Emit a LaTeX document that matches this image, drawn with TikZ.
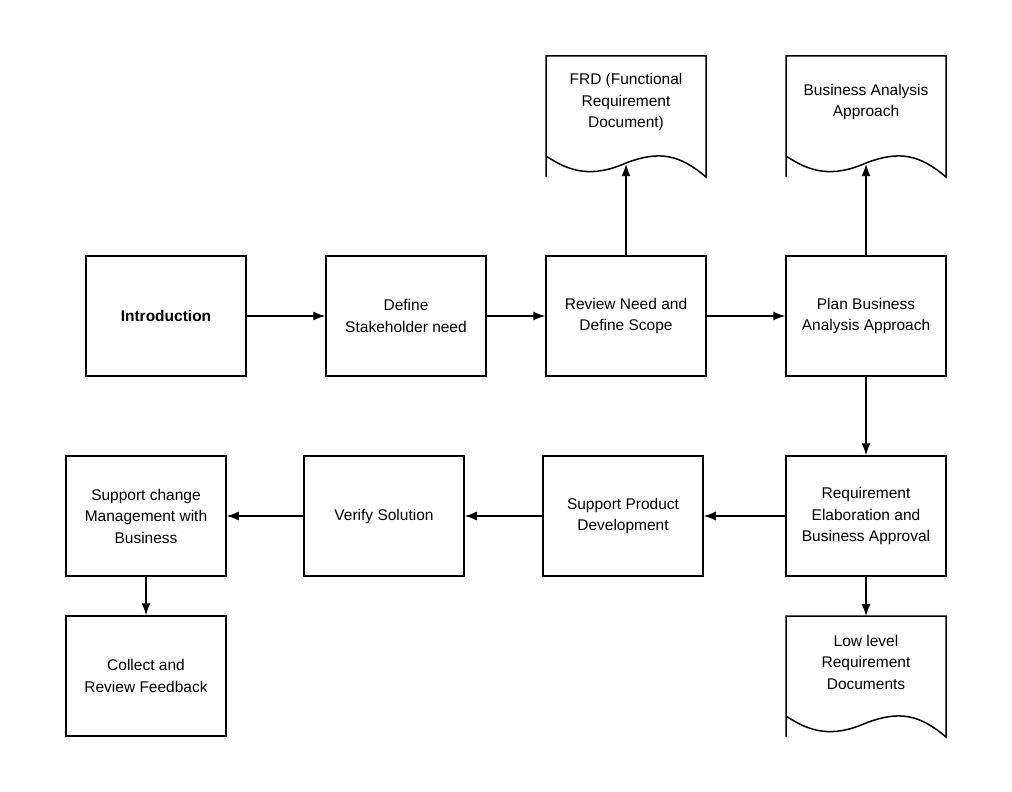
\documentclass[tikz,border=0pt]{standalone}
\usepackage{fontspec}
\setmainfont{Liberation Sans}
\usetikzlibrary{arrows.meta}
\begin{document}
\begin{tikzpicture}[x=1pt,y=-1pt,
  box/.style={draw,line width=1.5pt,minimum width=160pt,minimum height=120pt,align=center,font=\fontsize{15.5}{21.5}\selectfont,inner sep=0pt},
  ln/.style={line width=1.3pt},
  arr/.style={ln,-{Latex[length=12pt,width=9pt]}},
  doctxt/.style={align=center,font=\fontsize{15.5}{21.5}\selectfont}]
\useasboundingbox (0,0) rectangle (1012,792);
\newcommand{\docshape}[2]{%
  \draw[line width=1.5pt] (#1,#2+121) -- (#1,#2) -- (#1+160,#2) -- (#1+160,#2+121)
   .. controls (#1+134,#2+99) and (#1+114,#2+94) .. (#1+80,#2+107)
   .. controls (#1+46,#2+122) and (#1+24,#2+116) .. (#1,#2+100) -- cycle;}
\node[box,font=\fontsize{15.5}{21.5}\selectfont\bfseries] (intro) at (166,316) {Introduction};
\node[box] (def) at (406,316) {Define\\Stakeholder need};
\node[box] (rev) at (626,316) {Review Need and\\Define Scope};
\node[box] (plan) at (866,316) {Plan Business\\Analysis Approach};
\node[box] (req) at (866,516) {Requirement\\Elaboration and\\Business Approval};
\node[box] (spd) at (623,516) {Support Product\\Development};
\node[box] (ver) at (384,516) {Verify Solution};
\node[box] (scm) at (146,516) {Support change\\Management with\\Business};
\node[box] (col) at (146,676) {Collect and\\Review Feedback};
\docshape{546}{56}
\docshape{786}{56}
\docshape{786}{616}
\node[doctxt] (frd) at (626,102) {FRD (Functional\\Requirement\\Document)};
\node[doctxt] (baa) at (866,102) {Business Analysis\\Approach};
\node[doctxt] (low) at (866,662) {Low level\\Requirement\\Documents};
\coordinate (frdb) at (626,164);
\coordinate (baab) at (866,164);
\coordinate (lowt) at (866,616);
\draw[arr] (intro) -- (def);
\draw[arr] (def) -- (rev);
\draw[arr] (rev) -- (plan);
\draw[arr] (rev) -- (frdb);
\draw[arr] (plan) -- (baab);
\draw[arr] (plan) -- (req);
\draw[arr] (req) -- (spd);
\draw[arr] (spd) -- (ver);
\draw[arr] (ver) -- (scm);
\draw[arr] (scm) -- (col);
\draw[arr] (req) -- (lowt);
\end{tikzpicture}
\end{document}
